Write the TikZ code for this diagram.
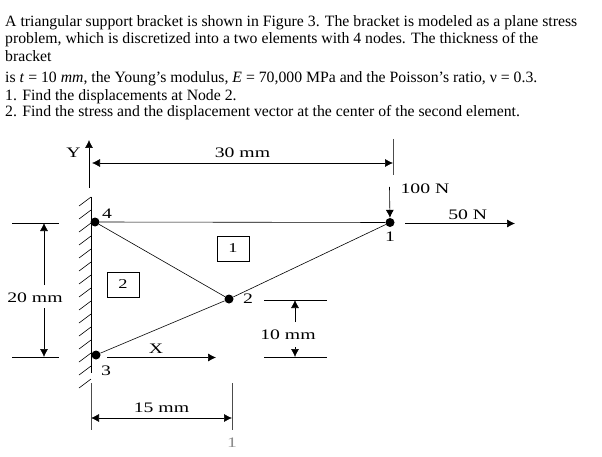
\documentclass[tikz,border=0pt]{standalone}
\usepackage{fontspec}
\setmainfont{Liberation Serif}
\newfontfamily\labfont[FakeStretch=1.36]{Liberation Serif}
\usepackage{amssymb}
\usepackage{tikz}
\usetikzlibrary{arrows.meta}
\usetikzlibrary{calc}

\tikzset{
	txt/.style={anchor=base west, inner sep=0pt, font=\fontsize{15.75}{18}\selectfont},
	lab/.style={inner sep=0pt, font=\labfont\fontsize{14.5}{16}\selectfont},
	elem/.style={draw, line width=0.6pt, minimum width=32pt, minimum height=25pt, inner sep=0pt, font=\labfont\fontsize{13.5}{15}\selectfont},
	pin/.style={circle, fill=black, minimum width=9pt, inner sep=0pt},
	dim/.style={line width=0.6pt, {Latex[length=8pt,width=8pt]}-{Latex[length=8pt,width=8pt]}},
	arr/.style={line width=0.6pt, -{Latex[length=8pt,width=8pt]}},
	bar/.style={line width=0.7pt, black!70}
}

\begin{document}
\begin{tikzpicture}[x=1pt,y=-1pt]
\useasboundingbox (0,0) rectangle (602,457);

% problem text
\node[txt] (t1) at (5,27) {A triangular support bracket is shown in Figure 3. The bracket is modeled as a plane stress};
\node[txt] (t2) at (5,44) {problem, which is discretized into a two elements with 4 nodes. The thickness of the};
\node[txt] (t3) at (5,62) {bracket};
\node[txt] (t4) at (5,83) {is \textit{t} = 10 \textit{mm}, the Young's modulus, \textit{E} = 70,000 MPa and the Poisson's ratio, ν = 0.3.};
\node[txt] (t5) at (5,101) {1. Find the displacements at Node 2.};
\node[txt] (t6) at (5,117) {2. Find the stress and the displacement vector at the center of the second element.};

% mesh
\node[pin] (n4) at (95,222) {};
\node[pin] (n1) at (390,222.5) {};
\node[pin] (n2) at (229,299) {};
\node[pin] (n3) at (96,355) {};
\draw[line width=0.6pt] (n4) -- (n1) -- (n2) -- (n4);
\draw[line width=0.6pt] (n2) -- (n3);
\node[lab] (l4) at (107,214) {4};
\node[lab] (l1) at (390,237) {1};
\node[lab] (l2) at (248,299) {2};
\node[lab] (l3) at (106,371) {3};
\node[elem] (e1) at (233,248.5) {1};
\node[elem] (e2) at (123,284.5) {2};

% wall
\coordinate (w1) at (91,197);
\coordinate (w2) at (91,373);
\draw[line width=0.6pt] (w1) -- (w2);
\foreach \y in {197,210,...,380}
	\draw[line width=0.6pt] (91,\y) -- ++(-12,9);

% axes
\coordinate (y0) at (89,188);
\coordinate (y1) at (89,140);
\coordinate (x0) at (107,357.5);
\coordinate (x1) at (216,357.5);
\draw[arr] (y0) -- node[lab, pos=0.73, left=8pt] (ly) {Y} (y1);
\draw[arr] (x0) -- node[lab, pos=0.45, above=4pt] (lx) {X} (x1);

% 30 mm
\coordinate (a1) at (92,163);
\coordinate (a2) at (393,163);
\draw[dim] (a1) -- node[lab, pos=0.5, above=5pt] (d30) {30 mm} (a2);
\draw[bar] (393,139) -- (393,175);

% 15 mm
\coordinate (b1) at (91,418);
\coordinate (b2) at (232,418);
\draw[dim] (b1) -- node[lab, pos=0.5, above=5pt] (d15) {15 mm} (b2);
\draw[bar] (91,383) -- (91,430);
\draw[bar] (232,383) -- (232,430);
\node[lab, black!45] (s1) at (232,443) {1};

% 20 mm
\node[lab] (d20) at (35,298) {20 mm};
\coordinate (c1) at (44,223);
\coordinate (c2) at (44,357);
\draw[arr] (44,285) -- (c1);
\draw[arr] (44,308) -- (c2);
\draw[line width=0.6pt] (12,223) -- (59,223);
\draw[line width=0.6pt] (12,357) -- (59,357);

% 10 mm
\node[lab] (d10) at (288,335) {10 mm};
\coordinate (f1) at (295,300);
\coordinate (f2) at (295,357);
\draw[arr] (295,322) -- (f1);
\draw[arr] (295,347) -- (f2);
\draw[line width=0.6pt] (264,300) -- (327,300);
\draw[line width=0.6pt] (264,357) -- (327,357);

% loads
\coordinate (p0) at (389.5,187);
\coordinate (q0) at (405,223.5);
\coordinate (q1) at (515,223.5);
\draw[arr] (p0) -- (n1);
\draw[arr] (q0) -- node[lab, pos=0.57, above=4pt] (l50) {50 N} (q1);
\node[lab] (l100) at (425,189) {100 N};
\end{tikzpicture}
\end{document}
